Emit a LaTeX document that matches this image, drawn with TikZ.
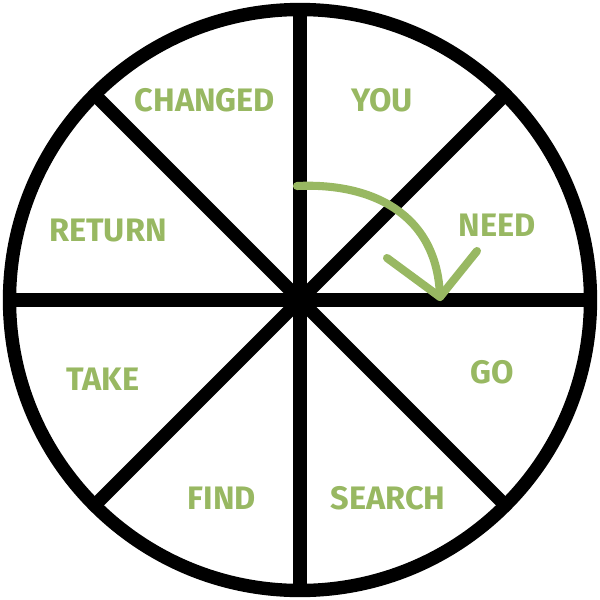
\documentclass[tikz,border=0pt]{standalone}
\usepackage{fontspec}
\setmainfont{Fira Sans}
\usepackage{xcolor}
\usepackage{tikz}
\usetikzlibrary{arrows.meta, positioning, calc}

\definecolor{leaf}{RGB}{152,184,98}

\begin{document}
\begin{tikzpicture}[>=latex, scale=1.0,
    word/.style={text=leaf, font=\fontsize{18.5}{20}\selectfont\bfseries, inner sep=0pt},
    rim/.style={line width=7.6pt, black},
    hand/.style={line width=4.6pt, leaf, line cap=round, line join=round}]

% Frame
\useasboundingbox (-6,-6) rectangle (6,6);

% Wheel
\coordinate (hub) at (0,0);
\draw[rim] (hub) circle (5.81);
\foreach \a in {0,45,...,315}
    \draw[rim] (hub) -- (\a:5.81);

% Words
\node[word] (changed) at (-1.9,4.0) {CHANGED};
\node[word] (you) at (1.64,4.0) {YOU};
\node[word] (return) at (-3.84,1.38) {RETURN};
\node[word] (need) at (3.94,1.5) {NEED};
\node[word] (take) at (-3.94,-1.58) {TAKE};
\node[word] (go) at (3.84,-1.44) {GO};
\node[word] (find) at (-1.56,-3.96) {FIND};
\node[word] (search) at (1.76,-3.96) {SEARCH};

% Hand-drawn arrow
\coordinate (start) at (-0.06,2.28);
\coordinate (tip) at (2.8,0.06);
\coordinate (armL) at (1.74,0.84);
\coordinate (armR) at (3.54,0.98);
\draw[hand] (start) .. controls (1.4,2.35) and (2.75,1.75) .. (tip);
\draw[hand] (armL) -- (tip) -- (armR);

\end{tikzpicture}
\end{document}
